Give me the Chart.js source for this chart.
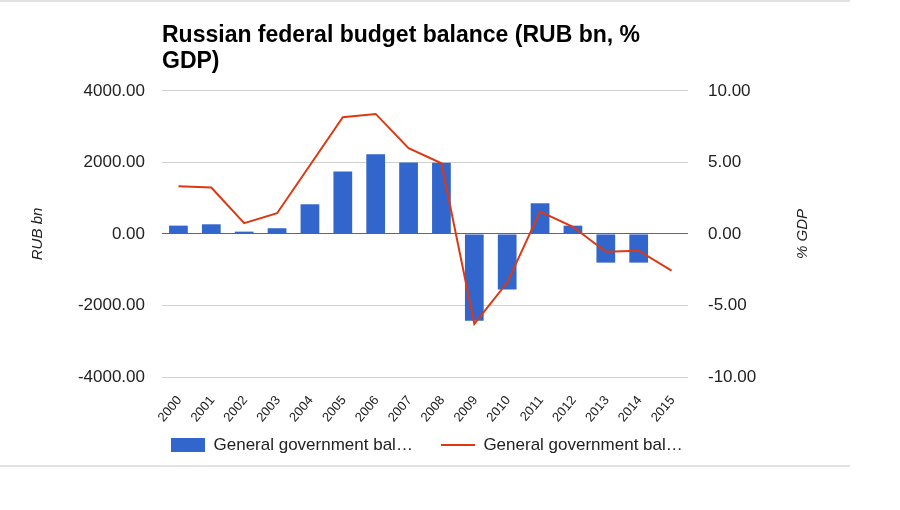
<!DOCTYPE html>
<html>
<head>
<meta charset="utf-8">
<script src="https://cdn.jsdelivr.net/npm/chart.js@4.4.1/dist/chart.umd.min.js"></script>
<style>
  body { margin: 0; background: #fff; }
  .wrap { position: relative; width: 900px; height: 510px; font-family: 'Liberation Sans', Arial, sans-serif; }
  .rule { position: absolute; left: 0; width: 850px; background: #e2e2e2; }
  .rule.top { top: 0; height: 2px; }
  .rule.bottom { top: 465px; height: 2px; }
  canvas { position: absolute; left: 0; top: 0; }
  #legend { position: absolute; left: 171px; top: 436px; display: flex; font-size: 17px; line-height: 18px; color: #222; }
  #legend .item { display: flex; align-items: center; margin-right: 28px; white-space: nowrap; }
  #legend .swatch { width: 34px; margin-right: 8.5px; }
</style>
</head>
<body>
<div class="wrap">
  <div class="rule top"></div>
  <canvas id="budget" width="900" height="510"></canvas>
  <div id="legend"></div>
  <div class="rule bottom"></div>
</div>
<script>
const years = ['2000', '2001', '2002', '2003', '2004', '2005', '2006', '2007',
  '2008', '2009', '2010', '2011', '2012', '2013', '2014', '2015'];
// general government balance, RUB bn (no bar for 2015)
const balanceRub = [233, 270, 65, 160, 830, 1743, 2228, 1995,
  1990, -2425, -1550, 858, 232, -802, -802, null];
// general government balance, % of GDP
const balancePct = [3.34, 3.24, 0.75, 1.45, 4.8, 8.16, 8.39, 5.99,
  4.94, -6.29, -3.4, 1.56, 0.5, -1.24, -1.17, -2.57];

const titleLines = ['Russian federal budget balance (RUB bn, %', 'GDP)'];
const seriesNames = ['General government balance (RUB bn)', 'General government balance (% GDP)'];
const leftTitle = 'RUB bn';
const rightTitle = '% GDP';

Chart.defaults.font.family = "'Liberation Sans', Arial, sans-serif";
Chart.defaults.color = '#222';

// vertical axis titles, both reading bottom to top
const axisTitles = {
  id: 'axisTitles',
  afterDraw(chart) {
    const { ctx, chartArea } = chart;
    const midY = (chartArea.top + chartArea.bottom) / 2;
    ctx.save();
    ctx.font = "italic 15px 'Liberation Sans', Arial, sans-serif";
    ctx.fillStyle = '#222';
    ctx.textAlign = 'center';
    ctx.textBaseline = 'middle';
    [[38, leftTitle], [803, rightTitle]].forEach(([x, txt]) => {
      ctx.save();
      ctx.translate(x, midY);
      ctx.rotate(-Math.PI / 2);
      ctx.fillText(txt, 0, 0);
      ctx.restore();
    });
    ctx.restore();
  }
};

// html legend built from the datasets, names cut short like the original
const htmlLegend = {
  id: 'htmlLegend',
  afterUpdate(chart) {
    const box = document.getElementById('legend');
    box.innerHTML = '';
    chart.data.datasets.forEach((ds) => {
      const item = document.createElement('div');
      item.className = 'item';
      const sw = document.createElement('span');
      sw.className = 'swatch';
      if (ds.type === 'line') {
        sw.style.height = '2px';
        sw.style.background = ds.borderColor;
      } else {
        sw.style.height = '14px';
        sw.style.background = ds.backgroundColor;
      }
      const txt = document.createElement('span');
      txt.textContent = ds.label.length > 22 ? ds.label.slice(0, 22) + '\u2026' : ds.label;
      item.appendChild(sw);
      item.appendChild(txt);
      box.appendChild(item);
    });
  }
};

const ctx = document.getElementById('budget').getContext('2d');
new Chart(ctx, {
  type: 'bar',
  data: {
    labels: years,
    datasets: [{
      label: seriesNames[0],
      data: balanceRub,
      backgroundColor: '#3366cc',
      borderWidth: 0,
      barPercentage: 0.57,
      categoryPercentage: 1,
      yAxisID: 'y',
      order: 1,
    },
    {
      type: 'line',
      label: seriesNames[1],
      data: balancePct,
      borderColor: '#dc3912',
      backgroundColor: '#dc3912',
      borderWidth: 2,
      pointRadius: 0,
      tension: 0,
      yAxisID: 'y1',
      order: 0,
    }],
  },
  options: {
    responsive: false,
    animation: false,
    devicePixelRatio: 1,
    layout: {
      padding: { left: 0, right: 0, top: 0, bottom: 73 },
    },
    plugins: {
      title: {
        display: true,
        text: titleLines,
        align: 'start',
        fullSize: false,
        color: '#000',
        font: { size: 23, weight: 'bold', lineHeight: 1.15 },
        padding: { top: 22, bottom: 16 },
      },
      legend: { display: false },
      tooltip: { enabled: false },
    },
    scales: {
      x: {
        grid: { display: false },
        border: { display: false },
        ticks: {
          autoSkip: false,
          minRotation: 50,
          maxRotation: 50,
          padding: 8,
          labelOffset: 1,
          color: '#222',
          font: { size: 13 },
        },
        afterFit: (scale) => { scale.height = 60; },
      },
      y: {
        position: 'left',
        min: -4000,
        max: 4000,
        border: { display: false },
        grid: {
          drawTicks: false,
          color: (c) => (c.tick.value === 0 ? '#666' : '#d0d0d0'),
        },
        ticks: {
          stepSize: 2000,
          padding: 17,
          color: '#222',
          font: { size: 17 },
          callback: (v) => Number(v).toFixed(2),
        },
        afterFit: (scale) => { scale.width = 162; },
      },
      y1: {
        position: 'right',
        min: -10,
        max: 10,
        border: { display: false },
        grid: { drawOnChartArea: false, drawTicks: false },
        ticks: {
          stepSize: 5,
          padding: 20,
          color: '#222',
          font: { size: 17 },
          callback: (v) => Number(v).toFixed(2),
        },
        afterFit: (scale) => { scale.width = 212; },
      },
    },
  },
  plugins: [axisTitles, htmlLegend],
});
</script>
</body>
</html>
